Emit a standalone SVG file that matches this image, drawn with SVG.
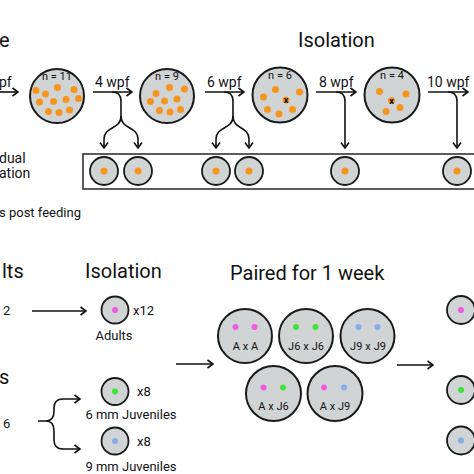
<svg xmlns="http://www.w3.org/2000/svg" width="474" height="474" viewBox="0 0 474 474">
<defs>
<style>
text{font-family:Roboto,"Liberation Sans",Arial,sans-serif;fill:#111}
.t20{font-size:20px}
.t14{font-size:14px}
.t13{font-size:13px}
.t11{font-size:11px}
.big{fill:#d1d4d5;stroke:#1a1a1a;stroke-width:2}
.sm{fill:#d1d4d5;stroke:#1a1a1a;stroke-width:1.8}
.or{fill:#f7941d}
.pk{fill:#ef5ce0}
.gr{fill:#3fe33a}
.bl{fill:#8aaaea}
.ln{fill:none;stroke:#111;stroke-width:1.6}
.box{fill:none;stroke:#333;stroke-width:1.6}
</style>
<marker id="ah" viewBox="0 0 10 10" refX="9" refY="5" markerWidth="10" markerHeight="10" markerUnits="userSpaceOnUse" orient="auto">
<path d="M3.5,1 L9,5 L3.5,9" fill="none" stroke="#111" stroke-width="1.6"/>
</marker>
</defs>
<rect width="474" height="474" fill="#fff"/>

<g id="titles">
<text class="t20" x="-1" y="47">e</text>
<text class="t20" x="298" y="47">Isolation</text>
<text class="t14" x="-1" y="163">dual</text>
<text class="t14" x="-1" y="178">ation</text>
<text class="t13" x="-1" y="217">s post feeding</text>
<text class="t20" x="2" y="278">lts</text>
<text class="t20" x="85" y="278">Isolation</text>
<text class="t20" x="-1" y="384">s</text>
<text class="t13" x="3" y="315">2</text>
<text class="t13" x="3" y="428">6</text>
<text class="t20" x="230" y="280">Paired for 1 week</text>
</g>

<g id="connectors">
<line class="ln" x1="-5" y1="92" x2="18" y2="92" marker-end="url(#ah)"/>
<line class="ln" x1="93" y1="92" x2="132" y2="92" marker-end="url(#ah)"/>
<line class="ln" x1="205" y1="92" x2="244" y2="92" marker-end="url(#ah)"/>
<line class="ln" x1="316" y1="92" x2="356" y2="92" marker-end="url(#ah)"/>
<line class="ln" x1="428" y1="92" x2="468" y2="92" marker-end="url(#ah)"/>
<path class="ln" d="M112,92 Q121,92 121,101 L121,116 C121,130 104,126 104,139 L104,148" marker-end="url(#ah)"/>
<path class="ln" d="M121,116 C121,130 138,126 138,139 L138,148" marker-end="url(#ah)"/>
<path class="ln" d="M224,92 Q233,92 233,101 L233,116 C233,130 216,126 216,139 L216,148" marker-end="url(#ah)"/>
<path class="ln" d="M233,116 C233,130 249,126 249,139 L249,148" marker-end="url(#ah)"/>
<path class="ln" d="M336,92 Q345,92 345,101 L345,148" marker-end="url(#ah)"/>
<path class="ln" d="M448,92 Q457,92 457,101 L457,148" marker-end="url(#ah)"/>
<line class="ln" x1="32" y1="311" x2="86" y2="311" marker-end="url(#ah)"/>
<path class="ln" d="M38,421 L46,421 Q54,421 54,411 L54,408 Q54,399 63,399 L80,399" marker-end="url(#ah)"/>
<path class="ln" d="M46,421 Q54,421 54,431 L54,440 Q54,449 63,449 L80,449" marker-end="url(#ah)"/>
<line class="ln" x1="176" y1="364" x2="213" y2="364" marker-end="url(#ah)"/>
<line class="ln" x1="397" y1="365" x2="433" y2="365" marker-end="url(#ah)"/>
</g>

<g id="tank-n11">
<circle class="big" cx="57" cy="96" r="27"/>
<text class="t11" x="57" y="80" text-anchor="middle">n = 11</text>
<circle class="or" cx="36" cy="90.5" r="3.5"/><circle class="or" cx="45.5" cy="94" r="3.5"/><circle class="or" cx="57.5" cy="87.5" r="3.5"/><circle class="or" cx="74" cy="89.5" r="3.5"/>
<circle class="or" cx="39.5" cy="102" r="3.5"/><circle class="or" cx="53.5" cy="101.5" r="3.5"/><circle class="or" cx="66" cy="99.5" r="3.5"/><circle class="or" cx="78.5" cy="98.5" r="3.5"/>
<circle class="or" cx="48.5" cy="111.5" r="3.5"/><circle class="or" cx="59" cy="112.5" r="3.5"/><circle class="or" cx="69.5" cy="110" r="3.5"/>
</g>
<g id="tank-n9">
<circle class="big" cx="167" cy="96" r="27"/>
<text class="t11" x="167" y="80" text-anchor="middle">n = 9</text>
<circle class="or" cx="156" cy="93.5" r="3.5"/><circle class="or" cx="169.5" cy="87.5" r="3.5"/><circle class="or" cx="184.5" cy="89" r="3.5"/>
<circle class="or" cx="150.5" cy="101.5" r="3.5"/><circle class="or" cx="164.5" cy="101" r="3.5"/><circle class="or" cx="177" cy="99" r="3.5"/>
<circle class="or" cx="159.5" cy="110.5" r="3.5"/><circle class="or" cx="170" cy="112" r="3.5"/><circle class="or" cx="180.5" cy="109.5" r="3.5"/>
</g>
<g id="tank-n6">
<circle class="big" cx="280" cy="95" r="27.5"/>
<text class="t11" x="280" y="79" text-anchor="middle">n = 6</text>
<circle class="or" cx="275.5" cy="89.5" r="3.5"/><circle class="or" cx="299.5" cy="92" r="3.5"/><circle class="or" cx="263.5" cy="97" r="3.5"/>
<circle class="or" cx="267.5" cy="109.5" r="3.5"/><circle class="or" cx="279" cy="114" r="3.5"/><circle class="or" cx="292.5" cy="109.5" r="3.5"/>
<circle class="or" cx="286" cy="100" r="3.5"/>
<text x="286" y="103" text-anchor="middle" style="font-size:9px;font-weight:bold">x</text>
</g>
<g id="tank-n4">
<circle class="big" cx="392" cy="95" r="27.5"/>
<text class="t11" x="392" y="79" text-anchor="middle">n = 4</text>
<circle class="or" cx="379.5" cy="91.5" r="3.5"/><circle class="or" cx="406" cy="94" r="3.5"/><circle class="or" cx="400" cy="107.5" r="3.5"/><circle class="or" cx="386" cy="111.5" r="3.5"/>
<circle class="or" cx="391.5" cy="100.5" r="3.5"/>
<text x="391.5" y="103.5" text-anchor="middle" style="font-size:9px;font-weight:bold">x</text>
</g>

<g id="wpf-labels">
<text class="t14" x="-1" y="86.5">pf</text>
<text class="t14" x="95" y="86.5">4 wpf</text>
<text class="t14" x="207" y="86.5">6 wpf</text>
<text class="t14" x="319" y="86.5">8 wpf</text>
<text class="t14" x="427" y="86.5">10 wpf</text>
</g>

<g id="individual-isolation">
<rect class="box" x="83" y="154" width="400" height="35"/>
<circle class="sm" cx="104" cy="171" r="14"/><circle class="or" cx="104" cy="171" r="3.5"/>
<circle class="sm" cx="138" cy="171" r="14"/><circle class="or" cx="138" cy="171" r="3.5"/>
<circle class="sm" cx="216" cy="171" r="14"/><circle class="or" cx="216" cy="171" r="3.5"/>
<circle class="sm" cx="249" cy="171" r="14"/><circle class="or" cx="249" cy="171" r="3.5"/>
<circle class="sm" cx="345" cy="171" r="14"/><circle class="or" cx="345" cy="171" r="3.5"/>
<circle class="sm" cx="457" cy="171" r="14"/><circle class="or" cx="457" cy="171" r="3.5"/>
</g>

<g id="iso-adults">
<circle class="sm" cx="115" cy="310" r="13.5"/><circle class="pk" cx="115" cy="310" r="3"/>
<text class="t13" x="133" y="315">x12</text>
<text class="t13" x="114" y="340" text-anchor="middle">Adults</text>
</g>
<g id="iso-j6">
<circle class="sm" cx="115" cy="391.5" r="13.5"/><circle class="gr" cx="115" cy="391.5" r="3"/>
<text class="t13" x="137" y="396">x8</text>
<text class="t13" x="131" y="419" text-anchor="middle">6 mm Juveniles</text>
</g>
<g id="iso-j9">
<circle class="sm" cx="115" cy="441" r="13.5"/><circle class="bl" cx="115" cy="441" r="3"/>
<text class="t13" x="137" y="446">x8</text>
<text class="t13" x="131" y="470.5" text-anchor="middle">9 mm Juveniles</text>
</g>

<g id="pair-AxA">
<circle class="big" cx="245" cy="336" r="27"/>
<circle class="pk" cx="235.5" cy="327" r="3"/><circle class="pk" cx="254.5" cy="327" r="3"/>
<text class="t11" x="245.5" y="349.5" text-anchor="middle">A x A</text>
</g>
<g id="pair-J6xJ6">
<circle class="big" cx="306" cy="336" r="27"/>
<circle class="gr" cx="296" cy="327" r="3"/><circle class="gr" cx="315.5" cy="327" r="3"/>
<text class="t11" x="306" y="349.5" text-anchor="middle" textLength="36">J6 x J6</text>
</g>
<g id="pair-J9xJ9">
<circle class="big" cx="367.5" cy="336" r="27"/>
<circle class="bl" cx="358.5" cy="327" r="3"/><circle class="bl" cx="377.5" cy="327" r="3"/>
<text class="t11" x="368" y="349.5" text-anchor="middle" textLength="36">J9 x J9</text>
</g>
<g id="pair-AxJ6">
<circle class="big" cx="273.5" cy="393.5" r="27.5"/>
<circle class="pk" cx="263.5" cy="387.5" r="3"/><circle class="gr" cx="283" cy="387.5" r="3"/>
<text class="t11" x="273.5" y="410" text-anchor="middle">A x J6</text>
</g>
<g id="pair-AxJ9">
<circle class="big" cx="335" cy="393.5" r="27.5"/>
<circle class="pk" cx="324" cy="387.5" r="3"/><circle class="bl" cx="344" cy="387.5" r="3"/>
<text class="t11" x="335" y="410" text-anchor="middle">A x J9</text>
</g>

<g id="after-adult">
<circle class="sm" cx="461" cy="310" r="14"/><circle class="pk" cx="461" cy="310" r="3"/>
</g>
<g id="after-j6">
<circle class="sm" cx="461" cy="390" r="14"/><circle class="gr" cx="461" cy="390" r="3"/>
</g>
<g id="after-j9">
<circle class="sm" cx="461" cy="440.5" r="14"/><circle class="bl" cx="461" cy="440.5" r="3"/>
</g>
</svg>
